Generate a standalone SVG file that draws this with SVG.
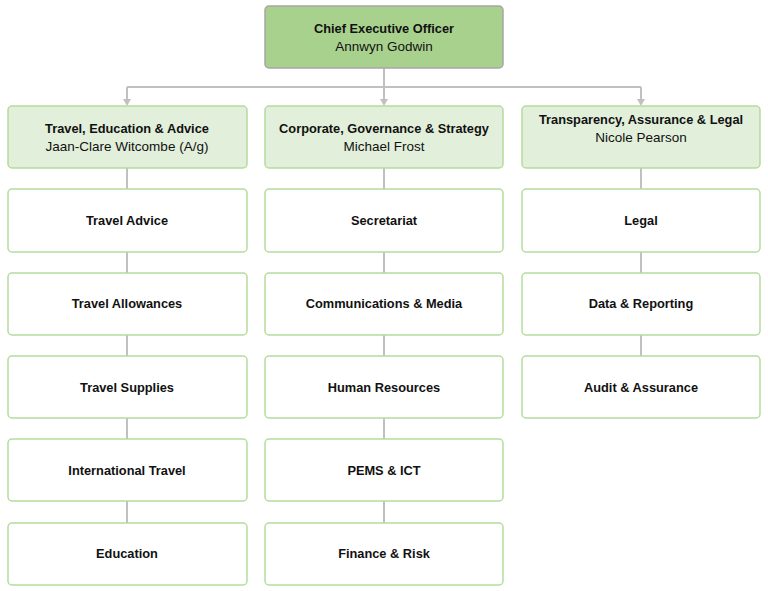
<svg xmlns="http://www.w3.org/2000/svg" width="768" height="591" viewBox="0 0 768 591">
<style>
.ceo{fill:#a9d18e;stroke:#a6a6a6;stroke-width:1.5}
.hd{fill:#e2efda;stroke:#b4dc9c;stroke-width:1.5}
.ch{fill:#ffffff;stroke:#b4dc9c;stroke-width:1.5}
.ln{stroke:#c0c0c0;stroke-width:2;fill:none}
text{font-family:"Liberation Sans",Arial,sans-serif;font-size:13.5px;fill:#111111;text-anchor:middle}
.b{font-weight:bold;font-size:12.8px}
</style>
<g id="connectors">
<path class="ln" d="M384,68 V87 M127,87 H641"/>
<path class="ln" d="M127,87 V100 M384,87 V100 M641,87 V100"/>
<path d="M123,99 L127,106 L131,99 Z M380,99 L384,106 L388,99 Z M637,99 L641,106 L645,99 Z" fill="#c0c0c0"/>
<path class="ln" d="M127,168 V523 M384,168 V523 M641,168 V356"/>
</g>
<g id="ceo"><rect class="ceo" x="265" y="6" width="238" height="62" rx="4"/><text class="b" x="384" y="33">Chief Executive Officer</text><text x="384" y="51">Annwyn Godwin</text></g>
<g id="tea"><rect class="hd" x="8" y="106" width="239" height="62" rx="4"/><text class="b" x="127" y="133">Travel, Education &amp; Advice</text><text x="127" y="151">Jaan-Clare Witcombe (A/g)</text></g>
<g id="cgs"><rect class="hd" x="265" y="106" width="238" height="62" rx="4"/><text class="b" x="384" y="133">Corporate, Governance &amp; Strategy</text><text x="384" y="151">Michael Frost</text></g>
<g id="tal"><rect class="hd" x="522" y="106" width="238" height="62" rx="4"/><text class="b" x="641" y="124">Transparency, Assurance &amp; Legal</text><text x="641" y="142">Nicole Pearson</text></g>
<g id="travel-advice"><rect class="ch" x="8" y="189" width="239" height="63" rx="4"/><text class="b" x="127" y="225">Travel Advice</text></g>
<g id="travel-allowances"><rect class="ch" x="8" y="273" width="239" height="62" rx="4"/><text class="b" x="127" y="308">Travel Allowances</text></g>
<g id="travel-supplies"><rect class="ch" x="8" y="356" width="239" height="62" rx="4"/><text class="b" x="127" y="392">Travel Supplies</text></g>
<g id="international-travel"><rect class="ch" x="8" y="439" width="239" height="62" rx="4"/><text class="b" x="127" y="475">International Travel</text></g>
<g id="education"><rect class="ch" x="8" y="523" width="239" height="62" rx="4"/><text class="b" x="127" y="558">Education</text></g>
<g id="secretariat"><rect class="ch" x="265" y="189" width="238" height="63" rx="4"/><text class="b" x="384" y="225">Secretariat</text></g>
<g id="communications"><rect class="ch" x="265" y="273" width="238" height="62" rx="4"/><text class="b" x="384" y="308">Communications &amp; Media</text></g>
<g id="hr"><rect class="ch" x="265" y="356" width="238" height="62" rx="4"/><text class="b" x="384" y="392">Human Resources</text></g>
<g id="pems"><rect class="ch" x="265" y="439" width="238" height="62" rx="4"/><text class="b" x="384" y="475">PEMS &amp; ICT</text></g>
<g id="finance"><rect class="ch" x="265" y="523" width="238" height="62" rx="4"/><text class="b" x="384" y="558">Finance &amp; Risk</text></g>
<g id="legal"><rect class="ch" x="522" y="189" width="238" height="63" rx="4"/><text class="b" x="641" y="225">Legal</text></g>
<g id="data"><rect class="ch" x="522" y="273" width="238" height="62" rx="4"/><text class="b" x="641" y="308">Data &amp; Reporting</text></g>
<g id="audit"><rect class="ch" x="522" y="356" width="238" height="62" rx="4"/><text class="b" x="641" y="392">Audit &amp; Assurance</text></g>
</svg>
